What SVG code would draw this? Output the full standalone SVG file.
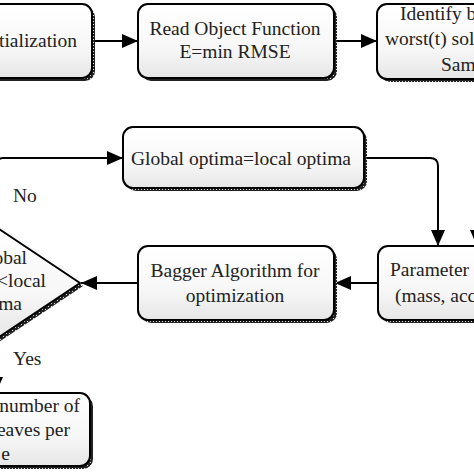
<svg xmlns="http://www.w3.org/2000/svg" width="474" height="474" viewBox="0 0 474 474">
<defs>
<linearGradient id="g" x1="0" y1="0" x2="0" y2="1">
<stop offset="0" stop-color="#ffffff"/>
<stop offset="0.6" stop-color="#f7f7f7"/>
<stop offset="1" stop-color="#e6e6e6"/>
</linearGradient>
<pattern id="hatch" width="3" height="3" patternUnits="userSpaceOnUse">
<rect width="3" height="3" fill="#222"/>
<rect width="1" height="1" fill="#ddd"/>
</pattern>
<marker id="ah" markerUnits="userSpaceOnUse" markerWidth="16" markerHeight="14" refX="16" refY="7" orient="auto">
<path d="M0,0 L16,7 L0,14 z" fill="#000"/>
</marker>
</defs>
<style>
.box{fill:url(#g);stroke:#000;stroke-width:2}
.sh{fill:url(#hatch)}
.t{font-family:"Liberation Serif","Times New Roman",serif;font-size:19.5px;fill:#222}
.c{fill:none;stroke:#000;stroke-width:2;marker-end:url(#ah)}
</style>
<rect width="474" height="474" fill="#fff"/>

<g id="connectors">
<path class="c" d="M92,41 H138"/>
<path class="c" d="M334,41 H377"/>
<path class="c" d="M477,80 V246"/>
<path class="c" d="M364,158 H430 Q438,158 438,166 V246"/>
<path class="c" d="M378,283 H335"/>
<path class="c" d="M138,283 H81"/>
<path class="c" d="M-3,227 V164 Q-3,158 3,158 H123"/>
<path class="c" d="M-4,339 V393"/>
</g>

<g id="n1">
<rect class="sh" x="-37" y="7" width="132" height="74" rx="10"/>
<rect class="box" x="-40" y="4" width="132" height="74" rx="10"/>
<text class="t" x="77" y="47" text-anchor="end">tialization</text>
</g>

<g id="n2">
<rect class="sh" x="141" y="7" width="196" height="74" rx="10"/>
<rect class="box" x="138" y="4" width="196" height="74" rx="10"/>
<text class="t" x="235" y="35" text-anchor="middle">Read Object Function</text>
<text class="t" x="235" y="58" text-anchor="middle">E=min RMSE</text>
</g>

<g id="n3">
<rect class="sh" x="380" y="7" width="120" height="75" rx="10"/>
<rect class="box" x="377" y="4" width="120" height="75" rx="10"/>
<text class="t" x="400" y="20">Identify b</text>
<text class="t" x="385" y="45">worst(t) sol</text>
<text class="t" x="441" y="71">Sam</text>
</g>

<g id="n4">
<rect class="sh" x="126" y="130" width="241" height="61" rx="10"/>
<rect class="box" x="123" y="127" width="241" height="61" rx="10"/>
<text class="t" x="241" y="165" text-anchor="middle">Global optima=local optima</text>
</g>

<g id="n5">
<rect class="sh" x="381" y="249" width="120" height="74" rx="10"/>
<rect class="box" x="378" y="246" width="120" height="74" rx="10"/>
<text class="t" x="390" y="276">Parameter</text>
<text class="t" x="395" y="302">(mass, acc</text>
</g>

<g id="n6">
<rect class="sh" x="141" y="249" width="196" height="74" rx="10"/>
<rect class="box" x="138" y="246" width="196" height="74" rx="10"/>
<text class="t" x="235" y="277" text-anchor="middle">Bagger Algorithm for</text>
<text class="t" x="235" y="302" text-anchor="middle">optimization</text>
</g>

<g id="n7">
<polygon class="sh" points="-1,230 83,286 -1,342 -85,286"/>
<polygon class="box" points="-4,227 80,283 -4,339 -88,283" stroke-linejoin="round"/>
<text class="t" x="27" y="264" text-anchor="end">obal</text>
<text class="t" x="46" y="287" text-anchor="end">&lt;local</text>
<text class="t" x="22" y="310" text-anchor="end">ma</text>
</g>

<g id="n8">
<rect class="sh" x="-37" y="396" width="130" height="73" rx="10"/>
<rect class="box" x="-40" y="393" width="130" height="73" rx="10"/>
<text class="t" x="80" y="412" text-anchor="end">number of</text>
<text class="t" x="70" y="436" text-anchor="end">eaves per</text>
<text class="t" x="10" y="460" text-anchor="end">e</text>
</g>

<g id="labels">
<text class="t" x="13" y="202">No</text>
<text class="t" x="13" y="365">Yes</text>
</g>
</svg>
